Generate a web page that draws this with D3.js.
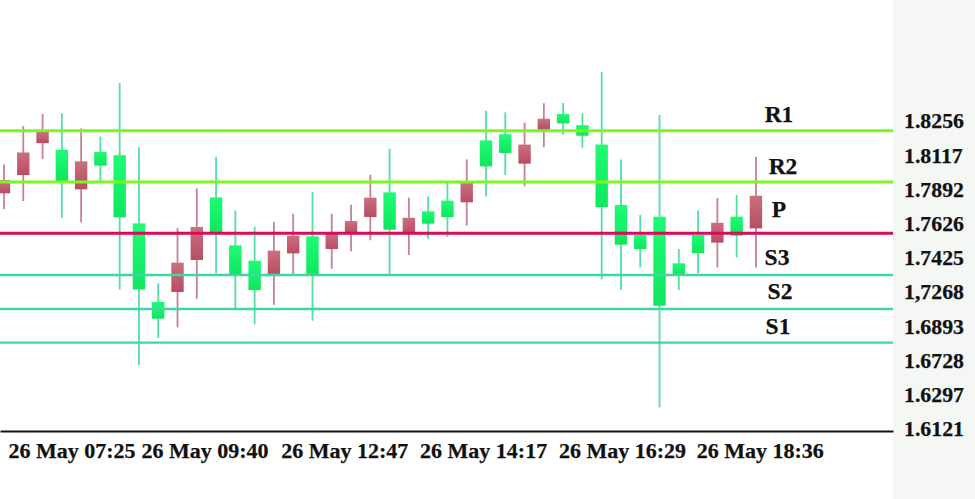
<!DOCTYPE html>
<html>
<head>
<meta charset="utf-8">
<script src="https://cdn.jsdelivr.net/npm/d3@7"></script>
<style>
  html, body { margin: 0; padding: 0; background: #fff; overflow: hidden; }
  text { font-family: "Liberation Serif", serif; font-weight: bold; fill: #111; stroke: #111; stroke-width: 0.25px; }
</style>
</head>
<body>
<div id="container"></div>
<script>
/* DATA */
const opens = [1.7958,1.8131,1.8215,1.7952,1.8081,1.8053,1.7680,1.7283,1.6983,1.7406,1.7610,1.7581,1.7354,1.7280,1.7471,1.7559,1.7354,1.7575,1.7651,1.7833,1.7594,1.7677,1.7631,1.7683,1.7941,1.8048,1.8129,1.8163,1.8268,1.8249,1.8199,1.7760,1.7506,1.7481,1.7125,1.7354,1.7457,1.7638,1.7559,1.7848]
const closes = [1.7867,1.7991,1.8169,1.8142,1.7897,1.8133,1.8120,1.7633,1.7166,1.7271,1.7418,1.7835,1.7502,1.7415,1.7354,1.7455,1.7555,1.7481,1.7573,1.7683,1.7874,1.7571,1.7727,1.7810,1.7797,1.8180,1.8205,1.8066,1.8223,1.8287,1.8242,1.8163,1.7776,1.7563,1.7685,1.7403,1.7563,1.7518,1.7685,1.7602]
const highs = [1.8061,1.8238,1.8287,1.8291,1.8229,1.8195,1.8413,1.8152,1.7312,1.7604,1.7903,1.8112,1.7734,1.7612,1.7644,1.7708,1.7877,1.7708,1.7778,1.7993,1.8146,1.7833,1.7843,1.7941,1.8094,1.8301,1.8294,1.8253,1.8331,1.8332,1.8290,1.8457,1.8094,1.7698,1.8283,1.7481,1.7734,1.7830,1.7854,1.8112]
const lows = [1.7745,1.7807,1.8096,1.7675,1.7641,1.7952,1.7283,1.6678,1.6839,1.6891,1.7202,1.7357,1.7078,1.6921,1.7136,1.7354,1.6961,1.7378,1.7467,1.7532,1.7354,1.7445,1.7541,1.7551,1.7618,1.7843,1.7991,1.7917,1.8152,1.8203,1.8150,1.7329,1.7280,1.7384,1.6235,1.7280,1.7357,1.7384,1.7432,1.7384]

const levelNames = ['R1','R2','P','S3','S2','S1']
const levelValues = [1.8219,1.7945,1.7573,1.7349,1.7089,1.6817]

const priceTicks = [1.8256,1.8117,1.7892,1.7626,1.7425,1.7268,1.6893,1.6728,1.6297,1.6121]
const priceLabels = ['1.8256','1.8117','1.7892','1.7626','1.7425','1,7268','1.6893','1.6728','1.6297','1.6121']

const timeTicks = [3.5,10.4,17.65,24.85,32.05,39.2]
const timeLabels = ['26 May 07:25','26 May 09:40','26 May 12:47','26 May 14:17','26 May 16:29','26 May 18:36']

/* CONSTANTS AND GLOBALS */
const width = 975, height = 499
const plotRight = 893, axisY = 431
const bodyWidth = 12.4
const levelColors = ['#7df51f','#7df51f','#dc0a5a','#3fd6a5','#3fd6a5','#3fd6a5']
const levelWidths = [3,3,3,2.6,2.6,2.4]
// label offsets from each level's line
const labelDx = [779,783,779,777,780,778]
const labelDy = [-8.5,-8.5,-16.5,-10.5,-10.5,-9]

/* SCALES */
const xScale = d3.scaleLinear()
  .domain([-0.2075, 46.11])
  .range([0, plotRight])

// price axis is uneven, so it is piecewise between the ticks
const yScale = d3.scaleLinear()
  .domain(priceTicks)
  .range(priceTicks.map((d, i) => 121.7 + 34.2 * i))

/* SVG */
const svg = d3.select('#container')
  .append('svg')
  .attr('width', width)
  .attr('height', height)
  .style('display', 'block')

const defs = svg.append('defs')
const addGrad = (id, top, bottom) => {
  const g = defs.append('linearGradient').attr('id', id)
    .attr('x1', 0).attr('x2', 0).attr('y1', 0).attr('y2', 1)
  g.append('stop').attr('offset', '0%').attr('stop-color', top)
  g.append('stop').attr('offset', '100%').attr('stop-color', bottom)
}
addGrad('upBody', '#1dfb76', '#10e65e')
addGrad('downBody', '#c9707f', '#b94d63')

svg.append('rect')
  .attr('x', plotRight).attr('y', 0)
  .attr('width', width - plotRight).attr('height', height)
  .attr('fill', '#f5f7f5')

/* CANDLES */
const candles = opens.map((d, i) => ({ i, open: d, close: closes[i], high: highs[i], low: lows[i] }))
const isUp = d => d.close > d.open

const candle = svg.append('g').selectAll('g')
  .data(candles)
  .join('g')

candle.append('line')
  .attr('x1', d => xScale(d.i)).attr('x2', d => xScale(d.i))
  .attr('y1', d => yScale(d.high)).attr('y2', d => yScale(d.low))
  .attr('stroke', d => isUp(d) ? '#52e0a0' : '#c58393')
  .attr('stroke-width', 1.8)

candle.append('rect')
  .attr('x', d => xScale(d.i) - bodyWidth / 2)
  .attr('width', bodyWidth)
  .attr('y', d => yScale(Math.max(d.open, d.close)))
  .attr('height', d => yScale(Math.min(d.open, d.close)) - yScale(Math.max(d.open, d.close)))
  .attr('fill', d => isUp(d) ? 'url(#upBody)' : 'url(#downBody)')

/* LEVELS */
svg.append('g').selectAll('line')
  .data(levelValues)
  .join('line')
  .attr('x1', 0).attr('x2', plotRight)
  .attr('y1', d => yScale(d)).attr('y2', d => yScale(d))
  .attr('stroke', (d, i) => levelColors[i])
  .attr('stroke-width', (d, i) => levelWidths[i])

svg.append('g').selectAll('text')
  .data(levelNames)
  .join('text')
  .attr('x', (d, i) => labelDx[i])
  .attr('y', (d, i) => yScale(levelValues[i]) + labelDy[i])
  .attr('text-anchor', 'middle')
  .style('font-size', '23.5px')
  .text(d => d)

/* AXES */
const xAxis = d3.axisBottom(xScale)
  .tickValues(timeTicks)
  .tickSize(0)
  .tickPadding(11)
  .tickFormat((d, i) => timeLabels[i])

const xG = svg.append('g')
  .attr('transform', `translate(0,${axisY})`)
  .call(xAxis)
xG.select('.domain').attr('stroke', '#111').attr('stroke-width', 2)
xG.selectAll('text').style('font-size', '22px').style('font-family', '"Liberation Serif", serif')

const yAxis = d3.axisRight(yScale)
  .tickValues(priceTicks)
  .tickSize(0)
  .tickPadding(11)
  .tickFormat((d, i) => priceLabels[i])

const yG = svg.append('g')
  .attr('transform', `translate(${plotRight},0)`)
  .call(yAxis)
yG.select('.domain').remove()
yG.selectAll('text')
  .attr('dy', '0.28em')
  .style('font-size', '21.8px')
  .style('font-family', '"Liberation Serif", serif')
</script>
</body>
</html>
